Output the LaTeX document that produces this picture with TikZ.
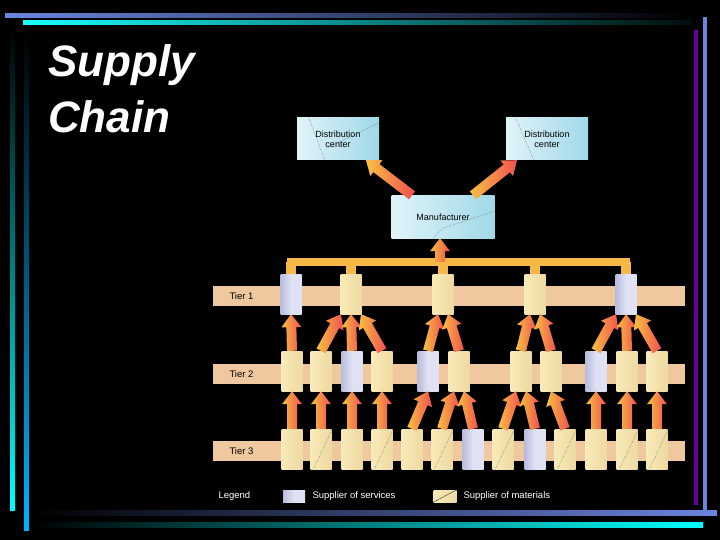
\documentclass[tikz,border=0pt]{standalone}
\usepackage{fontspec}
\setmainfont{Liberation Sans}
\usetikzlibrary{calc,shadows}
\definecolor{arryel}{HTML}{F8C040}
\definecolor{arrred}{HTML}{F05050}
\definecolor{band}{HTML}{F0C8A0}
\definecolor{boxy}{HTML}{F8EAB8}
\definecolor{boxy2}{HTML}{EED9A0}
\definecolor{svc}{HTML}{E0E2F4}
\definecolor{svc2}{HTML}{B8BCDC}
\definecolor{dcl}{HTML}{E0F4F8}
\definecolor{dcd}{HTML}{A0D8E8}
\definecolor{bus}{HTML}{F8B848}
\definecolor{brd}{HTML}{6A85E0}
\newcommand\garr[3][0]{%
 \path (#2.north) coordinate (gs) ($(#3.south)+(#1,0)$) coordinate (ge);
 \pgfpointdiff{\pgfpointanchor{gs}{center}}{\pgfpointanchor{ge}{center}}%
 \pgfgetlastxy{\gdx}{\gdy}%
 \pgfmathsetmacro\gang{atan2(\gdy,\gdx)}%
 \pgfmathsetmacro\glen{veclen(\gdx,\gdy)}%
 \begin{scope}[shift={(gs)}, rotate=\gang]
  \shade[left color=arryel, right color=arrred] (0,-5) -- (\glen-13,-5) -- (\glen-13,-10) -- (\glen,0) -- (\glen-13,10) -- (\glen-13,5) -- (0,5) -- cycle;
 \end{scope}}
\tikzset{
 tbox/.style={minimum width=21pt,minimum height=40pt,inner sep=0pt,left color=boxy,right color=boxy2},
 sbox/.style={minimum width=21pt,minimum height=40pt,inner sep=0pt,left color=svc2,right color=svc,middle color=svc},
 dc/.style={minimum width=82pt,minimum height=42pt,inner sep=0pt,align=center,font=\fontsize{9}{10}\selectfont,left color=dcl,right color=dcd},
 lbl/.style={font=\fontsize{9.5}{11}\selectfont,anchor=west},
 mline/.style={black!70,line width=0.4pt,densely dotted}
}
\begin{document}
\begin{tikzpicture}[x=1pt,y=-1pt]
\fill[black] (0,0) rectangle (720,540);
\useasboundingbox (0,0) rectangle (720,540);
% border
\shade[left color=brd, right color=black] (5,14) rectangle (692,18);
\shade[left color=cyan!90!white, right color=black!90!teal] (23,21) rectangle (692,25);
\fill[brd] (703,17) rectangle (707,515);
\fill[violet!80!blue] (694,30) rectangle (698,505);
\shade[top color=black, bottom color=cyan] (10,25) rectangle (15,510);
\shade[top color=black, bottom color=cyan!70!blue] (24,30) rectangle (29,530);
\shade[left color=black, right color=brd] (32,510) rectangle (717,515);
\shade[left color=black, right color=cyan] (32,522) rectangle (703,527);
% title
\node[anchor=north west,align=left,inner sep=0pt,font=\fontsize{44}{56}\selectfont\bfseries\itshape,text=white,
  drop shadow={shadow xshift=2pt,shadow yshift=-2pt,fill=black!55,opacity=0}] (title) at (48,44) {Supply\\Chain};
% bands
\foreach \y/\t in {296/1,374/2,451/3}{
 \fill[band] (213,\y-10) rectangle (685,\y+10);
 \node[lbl,text=black] (tl\t) at (226,\y) {Tier \t};
}
% top nodes
\node[dc] (dc1) at (338,139) {Distribution\\center};
\node[dc] (dc2) at (547,139) {Distribution\\center};
\node[dc,minimum width=103pt] (man) at (443,217) {Manufacturer};
\draw[mline] (dc1.north west)++(12,0) -- ($(dc1.south west)+(28,0)$);
\draw[mline] (dc1.south west)++(30,-12) -- ($(dc1.north east)+(0,5)$);
\draw[mline] (dc2.north west)++(10,0) -- ($(dc2.south west)+(28,0)$);
\draw[mline] (man.east)++(0,-6) -- ($(man.south)+(0,-10)$) -- ($(man.south)+(-10,0)$);
% bus
\fill[bus] (287,258) rectangle (630,266);
% tier 1
\foreach \n/\x/\s in {a/291/sbox,b/351/tbox,c/443/tbox,d/535/tbox,e/626/sbox}{
 \fill[bus] (\x-5,262) rectangle (\x+5,276);
 \node[\s] (t1\n) at (\x,294) {};
}
% tier 2
\foreach \n/\x/\s in {a/292/tbox,b/321/tbox,c/352/sbox,d/382/tbox,e/428/sbox,f/459/tbox,g/521/tbox,h/551/tbox,i/596/sbox,j/627/tbox,k/657/tbox}{
 \node[\s] (t2\n) at (\x,371) {};
}
% tier 3
\foreach \n/\x/\s/\m in {a/292/tbox/0,b/321/tbox/1,c/352/tbox/0,d/382/tbox/1,e/412/tbox/0,f/442/tbox/1,g/473/sbox/0,h/503/tbox/1,i/535/sbox/0,j/565/tbox/1,k/596/tbox/0,l/627/tbox/1,m/657/tbox/1}{
 \node[\s] (t3\n) at (\x,449) {};
 \ifnum\m=1 \draw[mline] ($(t3\n.south west)+(3,0)$) -- ($(t3\n.north east)+(0,2)$);\fi
}
% arrows tier3 -> tier2
\garr{t3a}{t2a}\garr{t3b}{t2b}\garr{t3c}{t2c}\garr{t3d}{t2d}
\garr{t3e}{t2e}\garr[-5]{t3f}{t2f}\garr[5]{t3g}{t2f}
\garr[-5]{t3h}{t2g}\garr[5]{t3i}{t2g}\garr{t3j}{t2h}
\garr{t3k}{t2i}\garr{t3l}{t2j}\garr{t3m}{t2k}
% arrows tier2 -> tier1
\garr{t2a}{t1a}
\garr[-10]{t2b}{t1b}\garr{t2c}{t1b}\garr[10]{t2d}{t1b}
\garr[-5]{t2e}{t1c}\garr[5]{t2f}{t1c}
\garr[-5]{t2g}{t1d}\garr[5]{t2h}{t1d}
\garr[-10]{t2i}{t1e}\garr{t2j}{t1e}\garr[10]{t2k}{t1e}
% bus -> manufacturer, manufacturer -> DCs
\node[inner sep=0pt,minimum size=0pt] (busn) at (440,262) {};
\garr[-3]{busn}{man}
\node[inner sep=0pt] (mtl) at (412,196) {};
\node[inner sep=0pt] (mtr) at (473,196) {};
\garr[28]{mtl}{dc1}
\garr[-30]{mtr}{dc2}
% legend
\node[lbl,text=white] (leg) at (215,496) {Legend};
\node[sbox,minimum width=22pt,minimum height=12pt] (ls) at (294,496) {};
\node[lbl,text=white] (lst) at (309,496) {Supplier of services};
\node[tbox,minimum width=23pt,minimum height=12pt] (lm) at (445,496) {};
\draw[black!70,line width=0.5pt] (lm.south west) -- (lm.north east);
\node[lbl,text=white] (lmt) at (460,496) {Supplier of materials};
\end{tikzpicture}
\end{document}
